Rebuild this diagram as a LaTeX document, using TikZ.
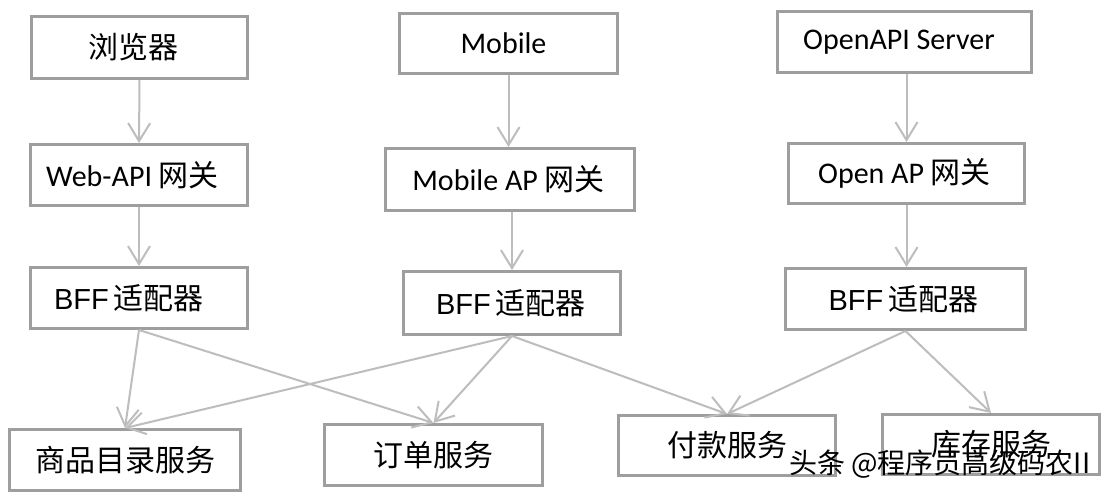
\documentclass[tikz,border=0pt]{standalone}
\usepackage{fontspec}
\setmainfont{Carlito}
\newfontfamily\cjk{Noto Sans CJK SC}
\newfontfamily\arialf{Liberation Sans}
\usetikzlibrary{arrows.meta}
\definecolor{boxgray}{HTML}{9E9E9E}
\definecolor{arrgray}{HTML}{BDBDBD}
\begin{document}
\begin{tikzpicture}[x=1pt,y=-1pt,
  box/.style={draw=boxgray, line width=3pt, rectangle, inner sep=0pt,
    font=\fontsize{30}{36}\selectfont, text=black},
  conn/.style={draw=arrgray, line width=2pt,
    -{Straight Barb[length=18pt,width=22pt,line width=2pt]}}]
\useasboundingbox (0,0) rectangle (1106,496);
\fill[white] (0,0) rectangle (1106,496);
% column 1
\node[box, minimum width=216pt, minimum height=62pt] (b1) at (139.5,47.5) {{\cjk 浏览器}\hspace*{12pt}};
\node[box, minimum width=217pt, minimum height=61pt] (w1) at (139,175) {Web-API {\cjk 网关}\hspace*{13pt}};
\node[box, minimum width=217pt, minimum height=61pt] (f1) at (139,298) {{\arialf\fontsize{29}{34}\selectfont BFF}\hspace{5pt}{\cjk 适配器}\hspace*{20pt}};
% column 2
\node[box, minimum width=218pt, minimum height=60pt] (m0) at (508.5,43.5) {Mobile\hspace*{10pt}};
\node[box, minimum width=249pt, minimum height=62pt] (m1) at (510,179.5) {Mobile AP {\cjk 网关}\hspace*{3pt}};
\node[box, minimum width=217pt, minimum height=63pt] (f2) at (512,303) {{\arialf\fontsize{29}{34}\selectfont BFF}\hspace{5pt}{\cjk 适配器}\hspace*{2pt}};
% column 3
\node[box, minimum width=254pt, minimum height=61pt] (o0) at (904.5,42) {OpenAPI Server\hspace*{11pt}};
\node[box, minimum width=236pt, minimum height=60pt] (o1) at (906.5,173.5) {Open AP {\cjk 网关}\hspace*{4pt}};
\node[box, minimum width=240pt, minimum height=61pt] (f3) at (905.5,299) {{\arialf\fontsize{29}{34}\selectfont BFF}\hspace{5pt}{\cjk 适配器}\hspace*{4pt}};
% services
\node[box, minimum width=231pt, minimum height=61pt, font=\cjk\fontsize{30}{36}\selectfont] (s1) at (125,460) {商品目录服务};
\node[box, minimum width=218pt, minimum height=61pt, font=\cjk\fontsize{30}{36}\selectfont] (s2) at (433.5,455) {订单服务};
\node[box, minimum width=217pt, minimum height=60pt, font=\cjk\fontsize{30}{36}\selectfont] (s3) at (727,445.5) {付款服务};
\node[box, minimum width=217pt, minimum height=60pt, font=\cjk\fontsize{30}{36}\selectfont] (s4) at (991,444.5) {库存服务};
% vertical connectors
\draw[conn] (b1.south) -- (w1.north);
\draw[conn] (w1.south) -- (f1.north);
\draw[conn] (m0.south) -- (m0.south |- m1.north);
\draw[conn] (m1.south -| f2.north) -- (f2.north);
\draw[conn] (o0.south -| o1.north) -- (o1.north);
\draw[conn] (o1.south) -- (o1.south |- f3.north);
% service connectors
\draw[conn] (f1.south) -- (s1.north);
\draw[conn] (f1.south) -- (s2.north);
\draw[conn] (f2.south) -- (s1.north);
\draw[conn] (f2.south) -- (s2.north);
\draw[conn] (f2.south) -- (s3.north);
\draw[conn] (f3.south) -- (s3.north);
\draw[conn] (f3.south) -- (s4.north);
% watermark
\node[anchor=west, inner sep=0pt, font=\cjk\fontsize{28}{32}\selectfont, text=black] (wm) at (789,464) {头条 @程序员高级码农II};
\end{tikzpicture}
\end{document}
